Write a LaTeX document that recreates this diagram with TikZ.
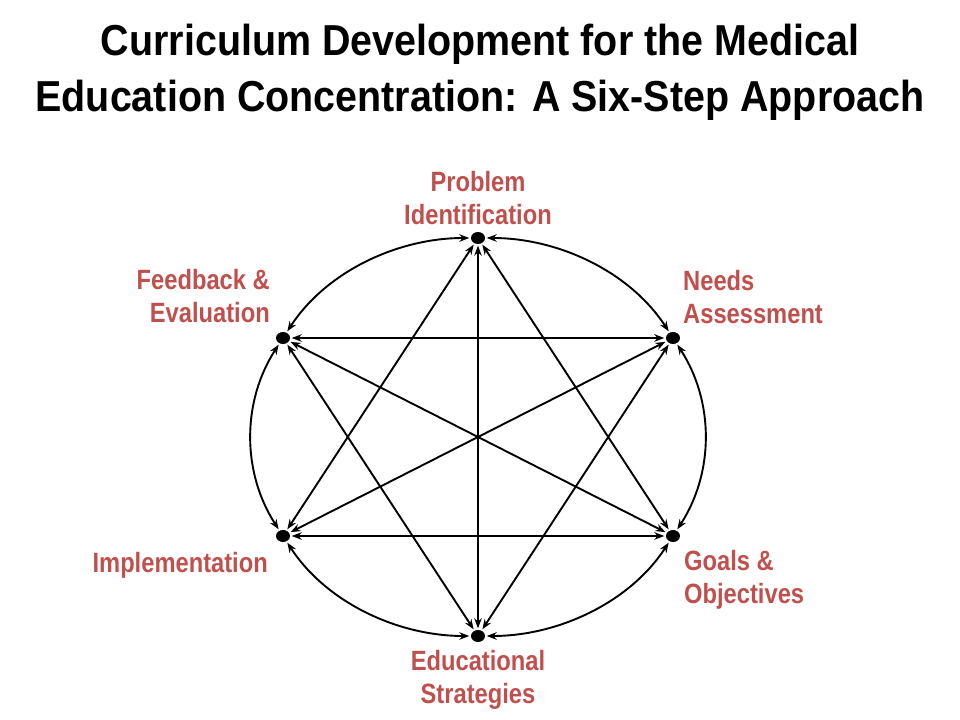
\documentclass[tikz,border=0pt]{standalone}
\usepackage{fontspec}
\setmainfont{Liberation Sans}
\newfontfamily\titlefont{Liberation Sans Bold}[FakeStretch=0.91]
\newfontfamily\stepfont{Liberation Sans Bold}[FakeStretch=0.85]
\usetikzlibrary{arrows.meta,shapes.geometric,positioning}
\definecolor{stepred}{RGB}{192,80,77}

\begin{document}
\begin{tikzpicture}[x=1bp,y=1bp,
    dot/.style={ellipse,fill=black,minimum width=14bp,minimum height=12bp,inner sep=0pt},
    link/.style={{Stealth[length=10bp,width=7.5bp]}-{Stealth[length=10bp,width=7.5bp]},line width=1.9bp,shorten <=1.5bp,shorten >=1.5bp},
    steptext/.style={text=stepred,font=\stepfont\fontsize{28}{34}\selectfont,inner sep=0pt}]
        \useasboundingbox (0,0) rectangle (960,720);

        \node[font=\titlefont\fontsize{43.5}{57}\selectfont,align=center,inner sep=0pt,anchor=base] (title) at (480,608)
        {Curriculum Development for the Medical\\Education Concentration: A Six-Step Approach};

        \node[dot] (P) at (478,482) {};
        \node[dot] (N) at (673,382) {};
        \node[dot] (G) at (673,184) {};
        \node[dot] (E) at (478,84) {};
        \node[dot] (I) at (283,184) {};
        \node[dot] (F) at (283,382) {};

        \node[steptext,align=center,anchor=base] (Plab) at (478,495) {Problem\\Identification};
        \node[steptext,align=left,anchor=base west] (Nlab) at (683,396) {Needs\\Assessment};
        \node[steptext,align=left,anchor=base west] (Glab) at (684,116) {Goals \&\\Objectives};
        \node[steptext,align=center,anchor=base] (Elab) at (478,16) {Educational\\Strategies};
        \node[steptext,align=right,anchor=base east] (Ilab) at (268,147) {Implementation};
        \node[steptext,align=right,anchor=base east] (Flab) at (270,397) {Feedback \&\\Evaluation};

        % outer ring
        \draw[link] (P) to[out=0,in=123,looseness=0.9] (N);
        \draw[link] (N) to[out=-57,in=57,looseness=0.95] (G);
        \draw[link] (G) to[out=-123,in=0,looseness=0.9] (E);
        \draw[link] (E) to[out=180,in=-57,looseness=0.9] (I);
        \draw[link] (I) to[out=123,in=-123,looseness=0.95] (F);
        \draw[link] (F) to[out=57,in=180,looseness=0.9] (P);

        % star
        \draw[link] (P) -- (G);
        \draw[link] (P) -- (E);
        \draw[link] (P) -- (I);
        \draw[link] (N) -- (E);
        \draw[link] (N) -- (I);
        \draw[link] (N) -- (F);
        \draw[link] (G) -- (I);
        \draw[link] (G) -- (F);
        \draw[link] (E) -- (F);
\end{tikzpicture}
\end{document}
